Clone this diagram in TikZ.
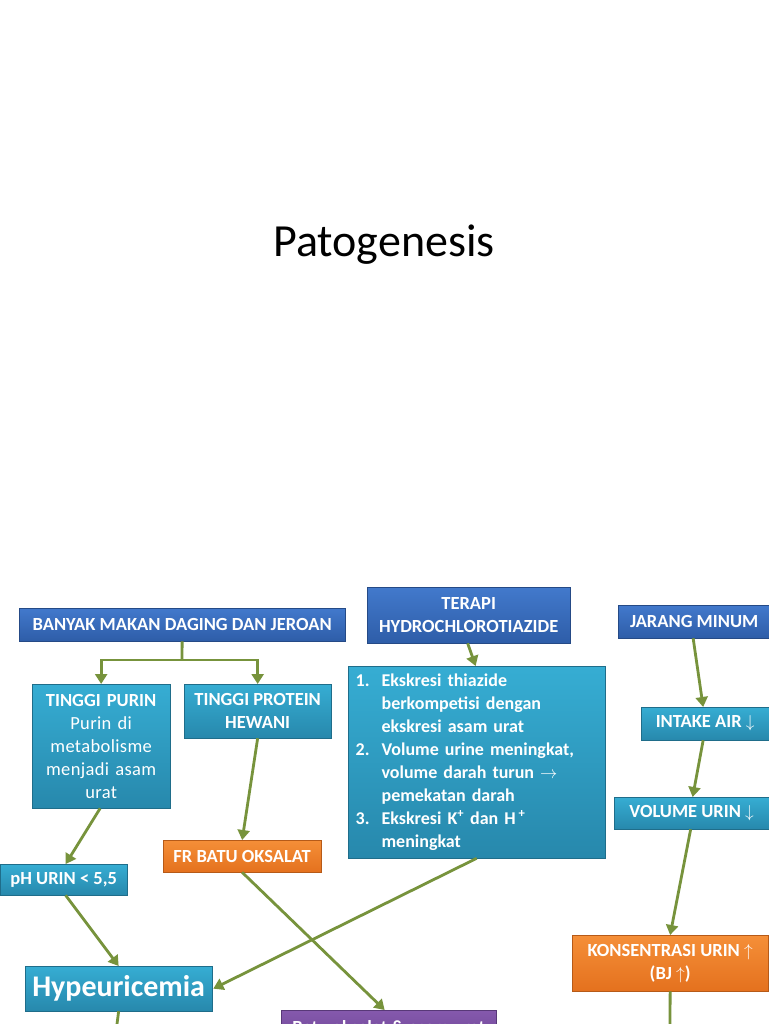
\documentclass[tikz,border=0pt]{standalone}
\usepackage{fontspec}
\setmainfont{Carlito}
\usetikzlibrary{arrows.meta,calc}
\definecolor{dbT}{HTML}{4279CC}\definecolor{dbB}{HTML}{2E5DA8}
\definecolor{tlT}{HTML}{36ADD3}\definecolor{tlB}{HTML}{2788AC}
\definecolor{orT}{HTML}{F58F38}\definecolor{orB}{HTML}{E4711E}
\definecolor{puT}{HTML}{8559AD}\definecolor{puB}{HTML}{6E4696}
\definecolor{ln}{HTML}{77933C}
\begin{document}
\begin{tikzpicture}[x=1pt,y=-1pt,
 box/.style={anchor=north west,inner sep=2pt,align=center,text=white,font=\bfseries\fontsize{18.5}{23}\selectfont},
 db/.style={box,top color=dbT,bottom color=dbB,draw=dbB!80!black,line width=0.3pt},
 tl/.style={box,top color=tlT,bottom color=tlB,draw=tlB!80!black,line width=0.3pt},
 or/.style={box,top color=orT,bottom color=orB,draw=orB!80!black,line width=0.3pt},
 pu/.style={box,top color=puT,bottom color=puB,draw=puB!80!black,line width=0.3pt},
 ar/.style={draw=ln,line width=2.8pt,-{Triangle[length=10pt,width=12pt]}},
 pl/.style={draw=ln,line width=2.8pt}]
\useasboundingbox[fill=white] (0,0) rectangle (768,1024);
\node[font=\fontsize{46}{48}\selectfont] (title) at (384,245) {Patogenesis};

\node[db,minimum width=326pt,minimum height=33pt] (banyak) at (19,608) {BANYAK MAKAN DAGING DAN JEROAN};
\node[db,minimum width=203pt,minimum height=56pt] (terapi) at (367,587) {TERAPI\\HYDROCHLOROTIAZIDE};
\node[db,minimum width=152pt,minimum height=33pt] (jarang) at (618,605) {JARANG MINUM};
\node[tl,minimum width=138pt,minimum height=124pt,text width=130pt] (purin) at (32,684) {TINGGI PURIN\\{\mdseries\addfontfeatures{LetterSpace=2}Purin di\\metabolisme\\menjadi asam\\urat}};
\node[tl,minimum width=147pt,minimum height=54pt] (protein) at (184,684) {TINGGI PROTEIN\\HEWANI};
\node[tl,minimum width=257pt,minimum height=192pt,text width=250pt,align=left,font=\bfseries\fontsize{18}{23}\selectfont] (list) at (348,666) {%
\begin{tabular}{@{\hspace{4pt}}l@{\hspace{12pt}}l@{}}
1. & Ekskresi thiazide\\ & berkompetisi dengan\\ & ekskresi asam urat\\
2. & Volume urine meningkat,\\ & volume darah turun $\rightarrow$\\ & pemekatan darah\\
3. & Ekskresi K\textsuperscript{+} dan H\,\textsuperscript{+}\\ & meningkat
\end{tabular}};
\node[tl,minimum width=128pt,minimum height=33pt] (intake) at (641,707) {INTAKE AIR $\downarrow$};
\node[tl,minimum width=155pt,minimum height=32pt] (volume) at (614,797) {VOLUME URIN $\downarrow$};
\node[or,minimum width=158pt,minimum height=32pt] (fr) at (163,840) {FR BATU OKSALAT};
\node[tl,minimum width=127pt,minimum height=31pt] (ph) at (0,864) {pH URIN < 5,5};
\node[tl,minimum width=187pt,minimum height=45pt,font=\bfseries\fontsize{30}{32}\selectfont] (hyp) at (25,966) {Hypeuricemia};
\node[or,minimum width=196pt,minimum height=56pt] (kons) at (572,935) {KONSENTRASI URIN $\uparrow$\\(BJ $\uparrow$)};
\node[pu,minimum width=215pt,minimum height=34pt,anchor=north west,align=center] (batu) at (281,1010) {\raisebox{-2pt}{Batu oksalat \& asam urat}};

\coordinate (split) at (182,660);
\coordinate (hypbot) at (117,1024);
\coordinate (konsbot) at (670,1024);
\draw[pl] (banyak.south) -- (split);
\draw[ar] (split) -| (purin.north);
\draw[ar] (split) -| (protein.north);
\draw[ar] ($(terapi.south)+(-1,0)$) -- ($(list.north)+(-1,0)$);
\draw[ar] ($(jarang.south)+(-1,0)$) -- ($(intake.north)+(-2,0)$);
\draw[ar] ($(intake.south)+(-2,0)$) -- ($(volume.north)+(1,0)$);
\draw[ar] ($(volume.south)+(-1,0)$) -- (kons.north);
\draw[ar] ($(purin.south)-(1,0)$) -- ($(ph.north)+(2,0)$);
\draw[ar] (protein.south) -- (fr.north);
\draw[ar] ($(ph.south)+(2,0)$) -- (hyp.north);
\draw[ar] (list.south) -- ($(hyp.east)+(1,0)$);
\draw[ar] (fr.south) -- ($(batu.north)+(-4,0)$);
\draw[pl] (hyp.south) -- (hypbot);
\draw[pl] (kons.south) -- (konsbot);
\end{tikzpicture}
\end{document}
